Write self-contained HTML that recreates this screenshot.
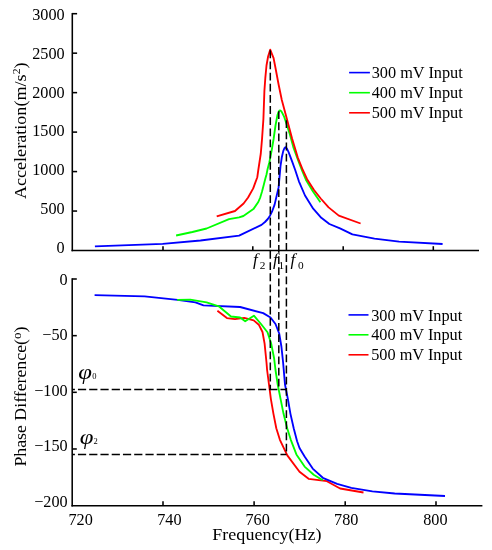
<!DOCTYPE html>
<html><head><meta charset="utf-8"><title>Frequency response</title>
<style>
html,body{margin:0;padding:0;background:#fff;}
svg{display:block;}
text{font-family:"Liberation Serif", "DejaVu Serif", serif;fill:#000;}
.t{font-size:16.2px;}
.l{font-size:16.3px;}
.a{font-size:18px;}
</style></head><body>
<svg width="492" height="550" viewBox="0 0 492 550">
<rect width="492" height="550" fill="#fff"/>

<g stroke="#000" stroke-width="1.55" fill="none">
<path d="M72.3,12.95 V251.25"/>
<path d="M71.55,250.5 H479"/>
<path d="M72.3,13.70 H77.1"/>
<path d="M72.3,53.17 H77.1"/>
<path d="M72.3,92.64 H77.1"/>
<path d="M72.3,132.11 H77.1"/>
<path d="M72.3,171.58 H77.1"/>
<path d="M72.3,211.05 H77.1"/>
<path d="M163,246.2 V250.5"/>
<path d="M252.8,246.2 V250.5"/>
<path d="M343.2,246.2 V250.5"/>
<path d="M433.3,246.2 V250.5"/>
<path d="M72.2,278.25 V506.4"/>
<path d="M71.45,505.65 H482.4"/>
<path d="M72.2,279.00 H76.8"/>
<path d="M72.2,335.66 H76.8"/>
<path d="M72.2,392.32 H76.8"/>
<path d="M72.2,448.98 H76.8"/>
<path d="M163,501.3 V505.65"/>
<path d="M254.1,501.3 V505.65"/>
<path d="M345.2,501.3 V505.65"/>
<path d="M436,501.3 V505.65"/>
</g>
<polyline points="94.9,246.3 162.7,243.9 200.5,240.5 239.1,235.7 261.5,224.9 265.0,222.0 267.8,219.0 270.0,215.7 272.0,211.7 274.6,204.6 278.6,187.4 280.5,166.2 281.8,157.3 283.3,150.9 284.3,148.5 285.5,147.2 286.8,148.4 288.6,152.2 292.0,161.1 295.2,170.0 298.9,181.3 305.0,195.5 313.2,208.7 321.3,217.8 329.4,224.0 340.0,228.4 352.4,234.4 374.5,238.7 399.1,241.6 442.6,244.0" fill="none" stroke="#0000ff" stroke-width="1.85" stroke-linejoin="round" stroke-linecap="butt"/>
<polyline points="176.1,235.5 192.4,232.0 206.6,228.5 229.0,219.2 239.1,217.4 243.4,216.0 253.4,209.1 258.3,202.0 260.3,197.3 261.9,192.1 263.6,185.5 265.3,178.8 266.5,174.5 267.5,169.5 269.3,162.5 271.6,150.9 273.6,139.0 275.5,125.5 277.4,115.3 278.4,112.2 279.3,110.7 280.2,110.4 281.3,111.2 282.6,113.6 284.3,117.2 285.8,121.6 289.5,133.1 293.3,147.1 297.9,159.8 301.8,170.0 306.3,180.6 313.0,191.5 320.4,202.3" fill="none" stroke="#00ff00" stroke-width="1.85" stroke-linejoin="round" stroke-linecap="butt"/>
<polyline points="216.7,216.3 235.0,211.0 243.6,203.5 248.1,197.5 253.2,188.4 257.3,177.2 258.3,170.0 260.8,153.5 262.1,138.2 263.4,119.1 264.4,90.9 265.3,78.2 266.5,65.5 268.1,56.5 270.2,49.7 273.5,57.8 275.5,68.0 278.6,84.5 281.8,100.0 286.9,119.1 292.0,138.2 297.7,157.3 302.8,170.0 307.1,179.2 314.0,190.0 320.7,198.5 328.6,207.4 338.8,215.6 360.6,223.5" fill="none" stroke="#ff0000" stroke-width="1.85" stroke-linejoin="round" stroke-linecap="butt"/>
<polyline points="217.4,310.8 226.9,318.1 235.0,319.1 244.2,317.9 253.7,320.4 258.8,324.7 262.5,332.0 264.6,343.6 266.5,362.5 267.1,370.0 269.0,384.5 270.9,399.1 273.4,413.6 276.3,428.2 279.9,439.8 287.3,455.4 299.5,471.7 308.6,478.8 326.9,481.2 340.1,488.5 363.5,492.5" fill="none" stroke="#ff0000" stroke-width="1.85" stroke-linejoin="round" stroke-linecap="butt"/>
<polyline points="94.6,295.1 144.6,296.3 177.6,299.9 195.4,302.3 203.5,305.3 240.1,307.0 263.2,313.1 270.5,317.5 275.5,324.0 279.2,333.5 281.4,346.5 283.1,362.5 285.0,384.5 287.9,399.1 290.4,413.6 293.7,428.2 297.1,441.3 299.5,448.0 304.6,456.4 312.7,468.6 322.8,477.8 337.1,483.9 351.3,487.9 372.4,491.3 394.7,493.5 445.0,496.0" fill="none" stroke="#0000ff" stroke-width="1.85" stroke-linejoin="round" stroke-linecap="butt"/>
<polyline points="177.1,299.8 190.3,299.6 206.6,302.3 218.8,306.3 231.0,316.5 240.1,317.5 245.2,321.2 253.9,315.7 261.0,324.0 267.5,332.3 271.2,343.6 274.1,358.2 275.5,370.0 277.7,384.5 280.6,399.1 283.5,413.6 287.2,428.2 290.8,439.8 296.4,454.4 304.6,466.6 313.7,474.7 322.8,480.3" fill="none" stroke="#00ff00" stroke-width="1.85" stroke-linejoin="round" stroke-linecap="butt"/>
<g stroke="#000" stroke-width="1.5" fill="none" stroke-dasharray="7.8 3.35">
<path d="M270.3,50.35 V389.4"/>
<path d="M278.8,111.2 V389.4"/>
<path d="M286.4,120.3 V454.5"/>
</g>
<g stroke="#000" stroke-width="1.5" fill="none" stroke-dasharray="8.2 3.05" stroke-dashoffset="5.5">
<path d="M72.2,389.4 H286.4"/>
<path d="M72.2,454.5 H286.4"/>
</g>
<text class="t" x="64.6" y="20.20" text-anchor="end">3000</text>
<text class="t" x="64.6" y="58.95" text-anchor="end">2500</text>
<text class="t" x="64.6" y="97.70" text-anchor="end">2000</text>
<text class="t" x="64.6" y="136.45" text-anchor="end">1500</text>
<text class="t" x="64.6" y="175.20" text-anchor="end">1000</text>
<text class="t" x="64.6" y="213.95" text-anchor="end">500</text>
<text class="t" x="64.6" y="252.70" text-anchor="end">0</text>
<text class="t" x="67.6" y="284.80" text-anchor="end">0</text>
<text class="t" x="67.6" y="340.25" text-anchor="end">−50</text>
<text class="t" x="67.6" y="395.70" text-anchor="end">−100</text>
<text class="t" x="67.6" y="451.15" text-anchor="end">−150</text>
<text class="t" x="67.6" y="506.60" text-anchor="end">−200</text>
<text class="t" x="80.6" y="524.7" text-anchor="middle">720</text>
<text class="t" x="169.4" y="524.7" text-anchor="middle">740</text>
<text class="t" x="257.6" y="524.7" text-anchor="middle">760</text>
<text class="t" x="346.2" y="524.7" text-anchor="middle">780</text>
<text class="t" x="435.4" y="524.7" text-anchor="middle">800</text>
<text transform="translate(266.9,540) scale(1.055,1)" font-size="17.1px" text-anchor="middle">Frequency(Hz)</text>
<text transform="translate(25.5,130.8) rotate(-90) scale(1.06,1)" font-size="17.1px" text-anchor="middle">Acceleration(m/s<tspan font-size="11px" dy="-5.8">2</tspan><tspan dy="5.8">)</tspan></text>
<text transform="translate(26.3,396.6) rotate(-90) scale(1.04,1)" font-size="17.1px" text-anchor="middle">Phase Difference(<tspan font-size="12.5px" dy="-5.8">o</tspan><tspan dy="5.8">)</tspan></text>
<path d="M349.1,72.6 H369.9" stroke="#0000ff" stroke-width="1.6"/>
<text class="l" x="371.7" y="77.9">300 mV Input</text>
<path d="M349.1,92.7 H369.9" stroke="#00ff00" stroke-width="1.6"/>
<text class="l" x="371.7" y="97.9">400 mV Input</text>
<path d="M349.1,112.8 H369.9" stroke="#ff0000" stroke-width="1.6"/>
<text class="l" x="371.7" y="118.1">500 mV Input</text>
<path d="M348.5,314.9 H368.5" stroke="#0000ff" stroke-width="1.6"/>
<text class="l" x="371.2" y="320.5">300 mV Input</text>
<path d="M348.5,334.8 H368.5" stroke="#00ff00" stroke-width="1.6"/>
<text class="l" x="371.2" y="340.4">400 mV Input</text>
<path d="M348.5,354.8 H368.5" stroke="#ff0000" stroke-width="1.6"/>
<text class="l" x="371.2" y="360">500 mV Input</text>
<text x="253.0" y="264.8" font-size="17px" font-style="italic">f</text>
<text x="259.8" y="268.8" font-size="11.3px">2</text>
<text x="273.0" y="264.8" font-size="17px" font-style="italic">f</text>
<text x="278.6" y="268.8" font-size="11.3px">1</text>
<text x="290.6" y="264.8" font-size="17px" font-style="italic">f</text>
<text x="298.0" y="268.8" font-size="11.3px">0</text>
<text transform="translate(78.2,378.9) scale(1.18,1)" font-size="21px" font-style="italic">φ</text>
<text x="92.2" y="379.09999999999997" font-size="8.5px">0</text>
<text transform="translate(79.8,443.6) scale(1.18,1)" font-size="21px" font-style="italic">φ</text>
<text x="93.4" y="443.8" font-size="8.5px">2</text>
</svg></body></html>
